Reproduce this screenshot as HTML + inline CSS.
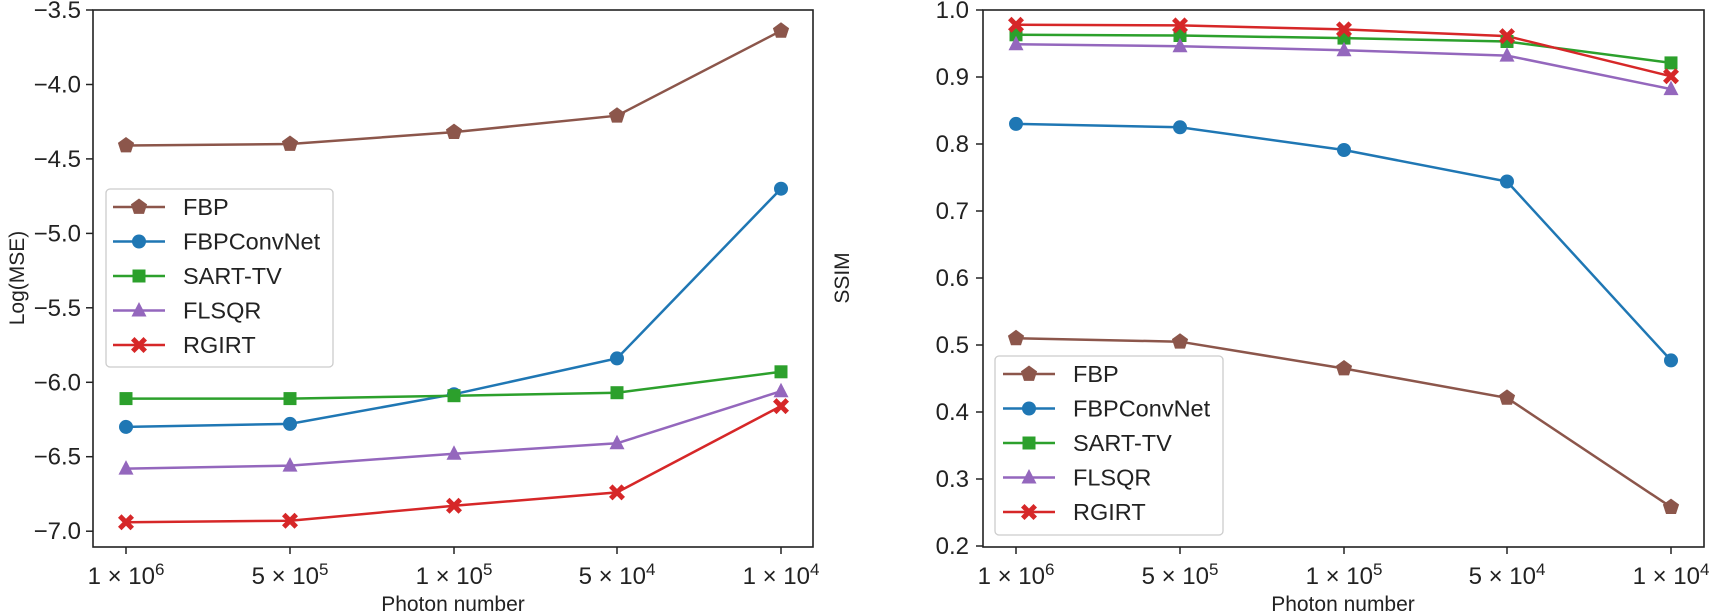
<!DOCTYPE html>
<html><head><meta charset="utf-8"><style>
html,body{margin:0;padding:0;background:#fff;}
svg{display:block;font-family:"Liberation Sans",sans-serif;}
</style></head><body>
<svg width="1715" height="613" viewBox="0 0 1715 613" xmlns="http://www.w3.org/2000/svg">
<defs>
<path id="pent" d="M0,-8.5 L8.1,-2.6 L5,6.9 L-5,6.9 L-8.1,-2.6 Z"/>
<circle id="circ" r="7"/>
<rect id="sq" x="-6.5" y="-6.5" width="13" height="13"/>
<path id="tri" d="M0,-8.5 L7.5,6 L-7.5,6 Z"/>
<path id="xx" d="M-8,-4.5 L-4.5,-8 L0,-3.5 L4.5,-8 L8,-4.5 L3.5,0 L8,4.5 L4.5,8 L0,3.5 L-4.5,8 L-8,4.5 L-3.5,0 Z"/>
</defs>

<!-- LEFT AXES -->
<g font-size="24" fill="#222">
<g stroke="#222" stroke-width="1.5">
<line x1="86" y1="10" x2="93" y2="10"/><line x1="86" y1="84.5" x2="93" y2="84.5"/>
<line x1="86" y1="158.9" x2="93" y2="158.9"/><line x1="86" y1="233.4" x2="93" y2="233.4"/>
<line x1="86" y1="307.8" x2="93" y2="307.8"/><line x1="86" y1="382.3" x2="93" y2="382.3"/>
<line x1="86" y1="456.7" x2="93" y2="456.7"/><line x1="86" y1="531.2" x2="93" y2="531.2"/>
<line x1="126" y1="547" x2="126" y2="554"/><line x1="290" y1="547" x2="290" y2="554"/>
<line x1="454" y1="547" x2="454" y2="554"/><line x1="617" y1="547" x2="617" y2="554"/>
<line x1="781" y1="547" x2="781" y2="554"/>
</g>
<g text-anchor="end">
<text x="81" y="18">−3.5</text><text x="81" y="92.5">−4.0</text>
<text x="81" y="167">−4.5</text><text x="81" y="241.4">−5.0</text>
<text x="81" y="315.8">−5.5</text><text x="81" y="390.3">−6.0</text>
<text x="81" y="464.7">−6.5</text><text x="81" y="539.2">−7.0</text>
</g>
<g text-anchor="middle">
<text x="126" y="584">1 × 10<tspan font-size="17" dy="-9">6</tspan></text>
<text x="290" y="584">5 × 10<tspan font-size="17" dy="-9">5</tspan></text>
<text x="454" y="584">1 × 10<tspan font-size="17" dy="-9">5</tspan></text>
<text x="617" y="584">5 × 10<tspan font-size="17" dy="-9">4</tspan></text>
<text x="781" y="584">1 × 10<tspan font-size="17" dy="-9">4</tspan></text>
<text x="453" y="611" font-size="21">Photon number</text>
<text transform="translate(24,278) rotate(-90)" font-size="21">Log(MSE)</text>
</g>
</g>

<g fill="none" stroke-width="2.5">
<polyline stroke="#8c564b" points="126,145.5 290,144 454,132.1 617,115.7 781,30.8"/>
<polyline stroke="#1f77b4" points="126,426.9 290,423.9 454,394.2 617,358.4 781,188.7"/>
<polyline stroke="#2ca02c" points="126,398.6 290,398.6 454,395.7 617,392.7 781,371.8"/>
<polyline stroke="#9467bd" points="126,468.6 290,465.6 454,453.7 617,443.3 781,391.2"/>
<polyline stroke="#d62728" points="126,522.2 290,520.7 454,505.8 617,492.4 781,406.1"/>
</g>
<g fill="#8c564b"><use href="#pent" x="126" y="145.5"/><use href="#pent" x="290" y="144"/><use href="#pent" x="454" y="132.1"/><use href="#pent" x="617" y="115.7"/><use href="#pent" x="781" y="30.8"/></g>
<g fill="#1f77b4"><use href="#circ" x="126" y="426.9"/><use href="#circ" x="290" y="423.9"/><use href="#circ" x="454" y="394.2"/><use href="#circ" x="617" y="358.4"/><use href="#circ" x="781" y="188.7"/></g>
<g fill="#2ca02c"><use href="#sq" x="126" y="398.6"/><use href="#sq" x="290" y="398.6"/><use href="#sq" x="454" y="395.7"/><use href="#sq" x="617" y="392.7"/><use href="#sq" x="781" y="371.8"/></g>
<g fill="#9467bd"><use href="#tri" x="126" y="468.6"/><use href="#tri" x="290" y="465.6"/><use href="#tri" x="454" y="453.7"/><use href="#tri" x="617" y="443.3"/><use href="#tri" x="781" y="391.2"/></g>
<g fill="#d62728"><use href="#xx" x="126" y="522.2"/><use href="#xx" x="290" y="520.7"/><use href="#xx" x="454" y="505.8"/><use href="#xx" x="617" y="492.4"/><use href="#xx" x="781" y="406.1"/></g>
<rect x="93" y="10" width="720" height="537" fill="none" stroke="#222" stroke-width="1.6"/>

<!-- left legend -->
<rect x="106" y="189" width="227" height="178" rx="4" fill="#fff" fill-opacity="0.85" stroke="#ccc" stroke-width="1.3"/>
<g stroke-width="2.5">
<line x1="113" y1="207" x2="165" y2="207" stroke="#8c564b"/>
<line x1="113" y1="241.5" x2="165" y2="241.5" stroke="#1f77b4"/>
<line x1="113" y1="276" x2="165" y2="276" stroke="#2ca02c"/>
<line x1="113" y1="310.5" x2="165" y2="310.5" stroke="#9467bd"/>
<line x1="113" y1="345" x2="165" y2="345" stroke="#d62728"/>
</g>
<use href="#pent" x="139" y="207" fill="#8c564b"/><use href="#circ" x="139" y="241.5" fill="#1f77b4"/>
<use href="#sq" x="139" y="276" fill="#2ca02c"/><use href="#tri" x="139" y="310.5" fill="#9467bd"/>
<use href="#xx" x="139" y="345" fill="#d62728"/>
<g font-size="23.5" fill="#222">
<text x="183" y="215">FBP</text><text x="183" y="249.5">FBPConvNet</text>
<text x="183" y="284">SART-TV</text><text x="183" y="318.5">FLSQR</text><text x="183" y="353">RGIRT</text>
</g>

<!-- RIGHT AXES -->
<g font-size="24" fill="#222">
<g stroke="#222" stroke-width="1.5">
<line x1="976" y1="10" x2="983" y2="10"/><line x1="976" y1="77" x2="983" y2="77"/>
<line x1="976" y1="144" x2="983" y2="144"/><line x1="976" y1="211" x2="983" y2="211"/>
<line x1="976" y1="278" x2="983" y2="278"/><line x1="976" y1="345" x2="983" y2="345"/>
<line x1="976" y1="412" x2="983" y2="412"/><line x1="976" y1="479" x2="983" y2="479"/>
<line x1="976" y1="546" x2="983" y2="546"/>
<line x1="1016" y1="547" x2="1016" y2="554"/><line x1="1180" y1="547" x2="1180" y2="554"/>
<line x1="1344" y1="547" x2="1344" y2="554"/><line x1="1507" y1="547" x2="1507" y2="554"/>
<line x1="1671" y1="547" x2="1671" y2="554"/>
</g>
<g text-anchor="end">
<text x="969" y="18">1.0</text><text x="969" y="85">0.9</text><text x="969" y="152">0.8</text>
<text x="969" y="219">0.7</text><text x="969" y="286">0.6</text><text x="969" y="353">0.5</text>
<text x="969" y="420">0.4</text><text x="969" y="487">0.3</text><text x="969" y="554">0.2</text>
</g>
<g text-anchor="middle">
<text x="1016" y="584">1 × 10<tspan font-size="17" dy="-9">6</tspan></text>
<text x="1180" y="584">5 × 10<tspan font-size="17" dy="-9">5</tspan></text>
<text x="1344" y="584">1 × 10<tspan font-size="17" dy="-9">5</tspan></text>
<text x="1507" y="584">5 × 10<tspan font-size="17" dy="-9">4</tspan></text>
<text x="1671" y="584">1 × 10<tspan font-size="17" dy="-9">4</tspan></text>
<text x="1343" y="611" font-size="21">Photon number</text>
<text transform="translate(849,278) rotate(-90)" font-size="21">SSIM</text>
</g>
</g>

<g fill="none" stroke-width="2.5">
<polyline stroke="#8c564b" points="1016,338.3 1180,341.7 1344,368.5 1507,397.9 1671,507.1"/>
<polyline stroke="#1f77b4" points="1016,123.9 1180,127.3 1344,150 1507,181.5 1671,360.4"/>
<polyline stroke="#2ca02c" points="1016,34.8 1180,35.5 1344,38.1 1507,41.5 1671,62.9"/>
<polyline stroke="#9467bd" points="1016,44.2 1180,46.2 1344,50.2 1507,55.6 1671,89.1"/>
<polyline stroke="#d62728" points="1016,24.7 1180,25.4 1344,29.4 1507,36.1 1671,76.3"/>
</g>
<g fill="#8c564b"><use href="#pent" x="1016" y="338.3"/><use href="#pent" x="1180" y="341.7"/><use href="#pent" x="1344" y="368.5"/><use href="#pent" x="1507" y="397.9"/><use href="#pent" x="1671" y="507.1"/></g>
<g fill="#1f77b4"><use href="#circ" x="1016" y="123.9"/><use href="#circ" x="1180" y="127.3"/><use href="#circ" x="1344" y="150"/><use href="#circ" x="1507" y="181.5"/><use href="#circ" x="1671" y="360.4"/></g>
<g fill="#2ca02c"><use href="#sq" x="1016" y="34.8"/><use href="#sq" x="1180" y="35.5"/><use href="#sq" x="1344" y="38.1"/><use href="#sq" x="1507" y="41.5"/><use href="#sq" x="1671" y="62.9"/></g>
<g fill="#9467bd"><use href="#tri" x="1016" y="44.2"/><use href="#tri" x="1180" y="46.2"/><use href="#tri" x="1344" y="50.2"/><use href="#tri" x="1507" y="55.6"/><use href="#tri" x="1671" y="89.1"/></g>
<g fill="#d62728"><use href="#xx" x="1016" y="24.7"/><use href="#xx" x="1180" y="25.4"/><use href="#xx" x="1344" y="29.4"/><use href="#xx" x="1507" y="36.1"/><use href="#xx" x="1671" y="76.3"/></g>
<rect x="983" y="10" width="721" height="537" fill="none" stroke="#222" stroke-width="1.6"/>

<!-- right legend -->
<rect x="995" y="356" width="228" height="179" rx="4" fill="#fff" fill-opacity="0.85" stroke="#ccc" stroke-width="1.3"/>
<g stroke-width="2.5">
<line x1="1003" y1="374" x2="1055" y2="374" stroke="#8c564b"/>
<line x1="1003" y1="408.5" x2="1055" y2="408.5" stroke="#1f77b4"/>
<line x1="1003" y1="443" x2="1055" y2="443" stroke="#2ca02c"/>
<line x1="1003" y1="477.5" x2="1055" y2="477.5" stroke="#9467bd"/>
<line x1="1003" y1="512" x2="1055" y2="512" stroke="#d62728"/>
</g>
<use href="#pent" x="1029" y="374" fill="#8c564b"/><use href="#circ" x="1029" y="408.5" fill="#1f77b4"/>
<use href="#sq" x="1029" y="443" fill="#2ca02c"/><use href="#tri" x="1029" y="477.5" fill="#9467bd"/>
<use href="#xx" x="1029" y="512" fill="#d62728"/>
<g font-size="23.5" fill="#222">
<text x="1073" y="382">FBP</text><text x="1073" y="416.5">FBPConvNet</text>
<text x="1073" y="451">SART-TV</text><text x="1073" y="485.5">FLSQR</text><text x="1073" y="520">RGIRT</text>
</g>
</svg>
</body></html>
